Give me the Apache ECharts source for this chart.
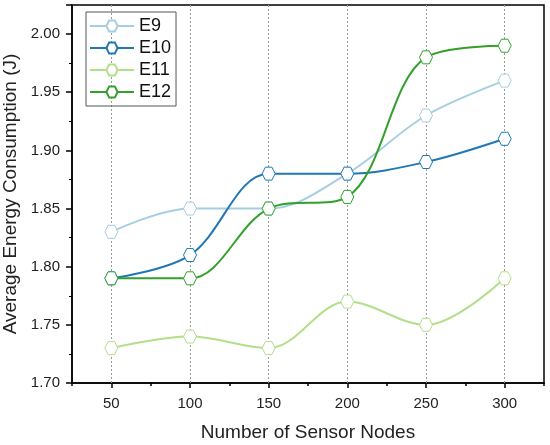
<!DOCTYPE html>
<html>
<head>
<meta charset="utf-8">
<script src="https://cdn.jsdelivr.net/npm/echarts@6/dist/echarts.min.js"></script>
<style>html,body{margin:0;padding:0;background:#fff;}#c{width:550px;height:445px;}</style>
</head>
<body>
<div id="c"></div>
<script>
const categories = ['50', '100', '150', '200', '250', '300'];
const seriesNames = ['E9', 'E10', 'E11', 'E12'];
const e9 = [1.83, 1.85, 1.85, 1.88, 1.93, 1.96];
const e10 = [1.79, 1.81, 1.88, 1.88, 1.89, 1.91];
const e11 = [1.73, 1.74, 1.73, 1.77, 1.75, 1.79];
const e12 = [1.79, 1.79, 1.85, 1.86, 1.98, 1.99];
const colors = ['#a6cee3', '#1f78b4', '#b2df8a', '#33a02c'];
const values = [e9, e10, e11, e12];

const hex = 'path://M-1,0 L-0.5,-0.866 L0.5,-0.866 L1,0 L0.5,0.866 L-0.5,0.866 Z';
const font = 'Liberation Sans, Arial, sans-serif';

const chart = echarts.init(document.getElementById('c'));
const series = values.map((v, i) => ({
  name: seriesNames[i],
  type: 'line',
  data: v,
  xAxisIndex: 0,
  smooth: 0.35,
  symbol: hex,
  symbolSize: 13,
  showAllSymbol: true,
  lineStyle: { color: colors[i], width: 2 },
  itemStyle: { color: '#fff', borderColor: colors[i], borderWidth: 1 },
  z: 3 + i,
  markLine: i === 0 ? {
    silent: true,
    symbol: 'none',
    label: { show: false },
    lineStyle: { color: '#999', type: [2, 2], width: 1 },
    data: categories.map(c => ({ xAxis: c })),
    z: 1
  } : undefined
}));

chart.setOption({
  animation: false,
  textStyle: { fontFamily: font },
  grid: {
    left: 72, right: 6, top: 5, bottom: 62,
    containLabel: false, outerBoundsMode: 'none',
    show: true, borderColor: '#000', borderWidth: 1.5, backgroundColor: 'transparent'
  },
  legend: {
    orient: 'vertical',
    left: 86, top: 12,
    padding: [5, 5, 5, 3],
    itemGap: 4,
    itemWidth: 44, itemHeight: 14,
    borderColor: '#555', borderWidth: 1,
    textStyle: { fontSize: 18, color: '#111', fontFamily: font },
    data: seriesNames
  },
  xAxis: [{
    type: 'category',
    data: categories,
    boundaryGap: true,
    name: 'Number of Sensor Nodes',
    nameLocation: 'middle',
    nameGap: 40,
    nameTextStyle: { fontSize: 19, color: '#222', fontFamily: font },
    axisLine: { lineStyle: { color: '#000', width: 1.5 } },
    axisTick: { show: true, alignWithLabel: true, length: 5, lineStyle: { color: '#000', width: 1.5 } },
    axisLabel: { fontSize: 15, color: '#222', margin: 13, fontFamily: font },
    splitLine: { show: false }
  }, {
    type: 'category',
    data: categories,
    boundaryGap: true,
    position: 'bottom',
    axisLine: { show: false },
    axisTick: { show: true, length: 3, lineStyle: { color: '#000', width: 1.5 } },
    axisLabel: { show: false },
    splitLine: { show: false }
  }],
  yAxis: {
    type: 'value',
    min: 1.70, max: 2.025, interval: 0.05,
    name: 'Average Energy Consumption (J)',
    nameLocation: 'middle',
    nameGap: 42,
    nameTextStyle: { fontSize: 19, color: '#222', fontFamily: font },
    axisLine: { show: true, lineStyle: { color: '#000', width: 1.5 } },
    axisTick: { show: true, length: 6, lineStyle: { color: '#000', width: 1.5 } },
    minorTick: { show: true, splitNumber: 2, length: 3, lineStyle: { color: '#000', width: 1 } },
    axisLabel: {
      fontSize: 15, color: '#222', margin: 12, fontFamily: font,
      formatter: v => (Math.abs(Math.round(v * 20) - v * 20) < 1e-6 ? v.toFixed(2) : '')
    },
    splitLine: { show: false }
  },
  series: series
});
</script>
</body>
</html>
